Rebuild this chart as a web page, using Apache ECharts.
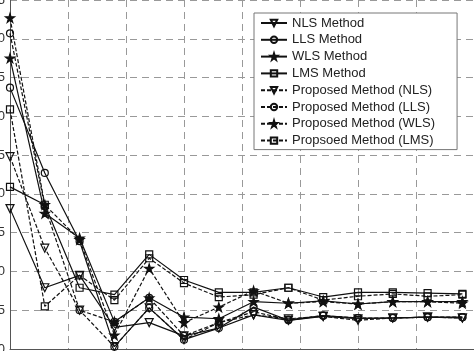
<!DOCTYPE html>
<html>
<head>
<meta charset="utf-8">
<script src="https://cdn.jsdelivr.net/npm/echarts@6/dist/echarts.min.js"></script>
<style>
  html, body { margin: 0; padding: 0; background: #fff; }
  #chart { width: 474px; height: 351px; }
</style>
</head>
<body>
<div id="chart"></div>
<script>
// x positions of the samples
const xValues = [0, 3, 6, 9, 12, 15, 18, 21, 24, 27, 30, 33, 36, 39]

// values
const nlsMethod = [18.1, 7.9, 9.5, 2.8, 3.4, 1.7, 2.7, 4.4, 3.7, 4.2, 3.9, 4.0, 4.1, 4.0]
const llsMethod = [33.7, 22.7, 13.9, 0.3, 5.3, 1.2, 2.7, 5.4, 3.7, 4.3, 4.0, 4.0, 4.1, 4.1]
const wlsMethod = [37.5, 17.5, 14.3, 3.5, 6.6, 4.1, 3.9, 6.1, 5.9, 6.2, 5.8, 6.1, 6.1, 6.1]
const lmsMethod = [20.9, 18.6, 7.9, 7.0, 12.2, 8.9, 7.3, 7.3, 7.9, 6.7, 7.3, 7.3, 7.2, 7.1]
const propNls = [24.8, 13.0, 5.0, 0.3, 5.3, 1.2, 3.4, 4.4, 3.9, 4.2, 3.7, 4.0, 4.1, 4.0]
const propLls = [40.7, 18.4, 5.0, 3.5, 6.6, 1.7, 3.4, 4.8, 3.8, 4.3, 4.0, 4.0, 4.1, 4.1]
const propWls = [42.7, 18.6, 14.1, 1.8, 10.4, 3.4, 5.4, 7.5, 5.9, 6.1, 5.8, 6.1, 6.1, 5.9]
const propLms = [30.9, 5.5, 9.5, 6.3, 11.7, 8.5, 6.7, 7.0, 7.9, 6.3, 6.8, 7.1, 6.8, 7.0]

const seriesNames = ['NLS Method', 'LLS Method', 'WLS Method', 'LMS Method',
  'Proposed Method (NLS)', 'Proposed Method (LLS)', 'Proposed Method (WLS)', 'Propsoed Method (LMS)']

const starPath = 'path://M50,0 L61,35 L98,35 L68,57 L79,91 L50,70 L21,91 L32,57 L2,35 L39,35 Z'

// marker for each method
const markers = {
  nls: { symbol: 'triangle', symbolRotate: 180, symbolSize: 8, fill: 'rgba(255,255,255,0)' },
  lls: { symbol: 'circle', symbolRotate: 0, symbolSize: 7, fill: 'rgba(255,255,255,0)' },
  wls: { symbol: starPath, symbolRotate: 0, symbolSize: 9, fill: '#111' },
  lms: { symbol: 'rect', symbolRotate: 0, symbolSize: 7, fill: 'rgba(255,255,255,0)' }
}

function makeSeries (name, values, mk, dashed) {
  return {
    name: name,
    type: 'line',
    data: values.map((v, i) => [xValues[i], v]),
    symbol: mk.symbol,
    symbolRotate: mk.symbolRotate,
    symbolSize: mk.symbolSize,
    showAllSymbol: true,
    lineStyle: { color: '#111', width: 1.2, type: dashed ? [4, 2] : 'solid' },
    itemStyle: { color: mk.fill, borderColor: '#111', borderWidth: 1.2 },
    emphasis: { disabled: true },
    animation: false
  }
}

const chart = echarts.init(document.getElementById('chart'))
chart.setOption({
  animation: false,
  grid: { left: 10, right: 0, top: 0, bottom: 2, containLabel: false, outerBoundsMode: 'none' },
  xAxis: {
    type: 'value',
    min: 0,
    max: 40,
    interval: 5,
    axisLine: { show: true, lineStyle: { color: '#555' } },
    axisTick: { show: false },
    axisLabel: { show: false },
    splitLine: { show: true, lineStyle: { color: '#999', type: [7, 5], width: 1 } }
  },
  yAxis: {
    type: 'value',
    min: 0,
    max: 45,
    interval: 5,
    axisLine: { show: true, lineStyle: { color: '#555' } },
    axisTick: { show: false },
    axisLabel: { color: '#333', fontSize: 13, fontFamily: 'Liberation Sans', margin: 5 },
    splitLine: { show: true, lineStyle: { color: '#999', type: [7, 5], width: 1 } }
  },
  legend: {
    data: seriesNames,
    orient: 'vertical',
    left: 254,
    top: 13,
    itemWidth: 26,
    itemHeight: 8,
    itemGap: 2.8,
    padding: [3, 22, 2, 6],
    backgroundColor: '#fff',
    borderColor: '#777',
    borderWidth: 1,
    textStyle: { color: '#222', fontSize: 13, fontFamily: 'Liberation Sans', lineHeight: 14 }
  },
  series: [
    makeSeries(seriesNames[0], nlsMethod, markers.nls, false),
    makeSeries(seriesNames[1], llsMethod, markers.lls, false),
    makeSeries(seriesNames[2], wlsMethod, markers.wls, false),
    makeSeries(seriesNames[3], lmsMethod, markers.lms, false),
    makeSeries(seriesNames[4], propNls, markers.nls, true),
    makeSeries(seriesNames[5], propLls, markers.lls, true),
    makeSeries(seriesNames[6], propWls, markers.wls, true),
    makeSeries(seriesNames[7], propLms, markers.lms, true)
  ]
})
</script>
</body>
</html>
